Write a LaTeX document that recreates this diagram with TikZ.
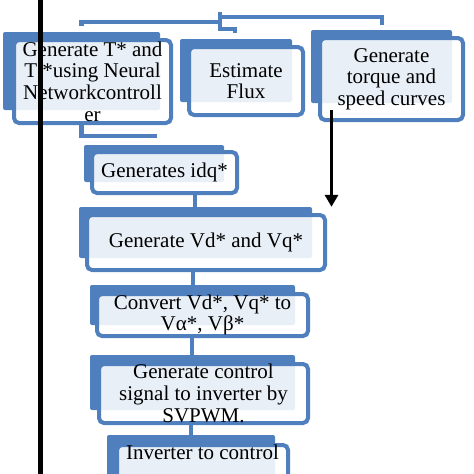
\documentclass[tikz,border=0pt]{standalone}
\usepackage{fontspec}
\setmainfont{Liberation Serif}
\usetikzlibrary{arrows.meta,positioning,calc}
\definecolor{smblue}{RGB}{79,127,189}

\begin{document}
\begin{tikzpicture}[x=1pt,y=-1pt]
    \tikzstyle{back}=[fill=smblue, rounded corners=2pt, inner sep=0pt]
    \tikzstyle{front}=[draw=smblue, line width=4pt, rounded corners=5pt, fill=white, fill opacity=0.88, text opacity=1, align=center, inner sep=0pt, font=\fontsize{21}{21.7}\selectfont]
    \tikzstyle{link}=[smblue, line width=4.5pt]
    \tikzstyle{rail}=[black, line width=5pt]
    \tikzstyle{feed}=[black, line width=3.5pt, -{Triangle[width=13pt,length=12pt]}]

    \useasboundingbox (0,0) rectangle (474,474);
    \clip (0,0) rectangle (474,474);

    % shadow blocks
    \node[back, minimum width=157pt, minimum height=78pt] (genb)    at (81.5,71)    {};
    \node[back, minimum width=112pt, minimum height=63pt] (fluxb)   at (236,70.5)   {};
    \node[back, minimum width=141pt, minimum height=73pt] (curvesb) at (381.5,66.5) {};
    \node[back, minimum width=140pt, minimum height=37pt] (idqb)    at (154,163.5)  {};
    \node[back, minimum width=233pt, minimum height=51pt] (vdqb)    at (195.5,232.5) {};
    \node[back, minimum width=205pt, minimum height=40pt] (valphab) at (192.5,305)  {};
    \node[back, minimum width=205pt, minimum height=55pt] (svpwmb)  at (192.5,382.5) {};
    \node[back, minimum width=168pt, minimum height=65pt] (invb)    at (191,467.5)  {};

    % boxes
    \node[front, minimum width=157pt, minimum height=83pt] (gen)    at (92.5,81.5)  {Generate T* and\\T *using Neural\\Networkcontroll\\er};
    \node[front, minimum width=114pt, minimum height=68pt] (flux)   at (246,81)     {Estimate\\Flux};
    \node[front, minimum width=143pt, minimum height=82pt] (curves) at (391.5,79)   {Generate\\torque and\\speed curves};
    \node[front, minimum width=145pt, minimum height=41pt] (idq)    at (164.5,172.5) {Generates idq*};
    \node[front, minimum width=238pt, minimum height=55pt] (vdq)    at (206,242.5)  {Generate Vd* and Vq*};
    \node[front, minimum width=211pt, minimum height=42pt] (valpha) at (202.5,315)  {Convert Vd*, Vq* to\\Vα*, Vβ*};
    \node[front, minimum width=209pt, minimum height=59pt] (svpwm)  at (203.5,393.5) {Generate control\\signal to inverter by\\SVPWM.};
    \node[front, minimum width=171pt, minimum height=60pt] (inv)    at (202.5,475)  {};
    \node[font=\fontsize{21}{21.7}\selectfont] (invtxt) at (202.5,452) {Inverter to control};

    % links
    \coordinate (hub) at (220,12);
    \draw[link] ([yshift=6pt]genb.north) |- ([yshift=-10pt]hub);
    \draw[link] (hub) -- ++(0,17) -| ([xshift=-1pt,yshift=6pt]fluxb.north);
    \draw[link] ([yshift=-5pt]hub) -| ([xshift=0.5pt,yshift=5pt]curvesb.north);
    \draw[link] ([xshift=-11pt]gen.south) -- ++(0,11) -| ([xshift=-10pt,yshift=12pt]idq.north);
    \draw[link] ([xshift=30.5pt]idq.south) -- ([xshift=30.5pt]idq.south |- vdqb.north);
    \draw[link] ([xshift=-13pt]vdq.south) -- ([xshift=-13pt]vdq.south |- valphab.north);
    \draw[link] ([xshift=-10.5pt]valpha.south) -- ([xshift=-10.5pt]valpha.south |- svpwmb.north);
    \draw[link] ([xshift=-12.5pt]svpwm.south) -- ([xshift=-12.5pt]svpwm.south |- invb.north);

    % black lines
    \coordinate (railtop) at (40.5,0);
    \coordinate (railbot) at (40.5,474);
    \draw[rail] (railtop) -- (railbot);
    \coordinate (feedtop) at (331.5,110);
    \draw[feed] (feedtop) -- (feedtop |- vdqb.north);
\end{tikzpicture}
\end{document}
